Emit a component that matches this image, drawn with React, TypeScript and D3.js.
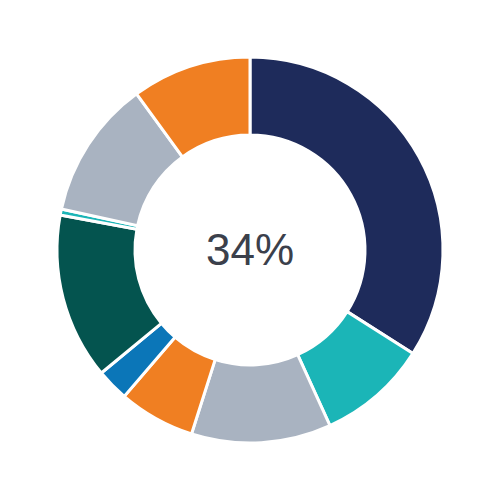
import React, { useRef, useEffect } from 'react';
import * as d3 from 'd3';

// slice shares in percent, clockwise from 12 o'clock
const labels = ['a', 'b', 'c', 'd', 'e', 'f', 'g', 'h', 'i'];
const values = [34, 9.2, 11.7, 6.4, 2.7, 13.9, 0.5, 11.6, 10];
const colors = ['#1e2b5b', '#1bb5b7', '#a9b3c1', '#f07f22', '#0b76b8', '#04544f', '#1bb5b7', '#a9b3c1', '#f07f22'];
const centerLabel = '34%';

function Donut() {
    const svgRef = useRef<SVGSVGElement>(null);
    useEffect(() => {
        const layout = { width: 500, height: 500, outer: 193, inner: 115 };
        const svg = d3.select(svgRef.current)
            .attr('width', layout.width)
            .attr('height', layout.height);
        svg.selectAll('*').remove();

        const g = svg.append('g')
            .attr('transform', `translate(${layout.width / 2},${layout.height / 2})`);

        const pie = d3.pie<number>().sort(null).value(d => d);
        const arc = d3.arc<d3.PieArcDatum<number>>()
            .innerRadius(layout.inner)
            .outerRadius(layout.outer);

        g.selectAll('path')
            .data(pie(values))
            .join('path')
                .attr('d', arc)
                .attr('fill', (d, i) => colors[i])
                .attr('stroke', '#fff')
                .attr('stroke-width', 3)
                .attr('stroke-linejoin', 'miter');

        g.append('text')
            .attr('text-anchor', 'middle')
            .attr('dy', '0.35em')
            .attr('font-family', 'Liberation Sans, Arial, sans-serif')
            .attr('font-size', 44)
            .attr('fill', '#3b404b')
            .text(centerLabel);
    }, []);

    return <svg ref={svgRef} style={{ display: 'block', position: 'absolute', left: 0, top: 0 }}></svg>;
}

export default function App() {
    return <Donut />;
}
